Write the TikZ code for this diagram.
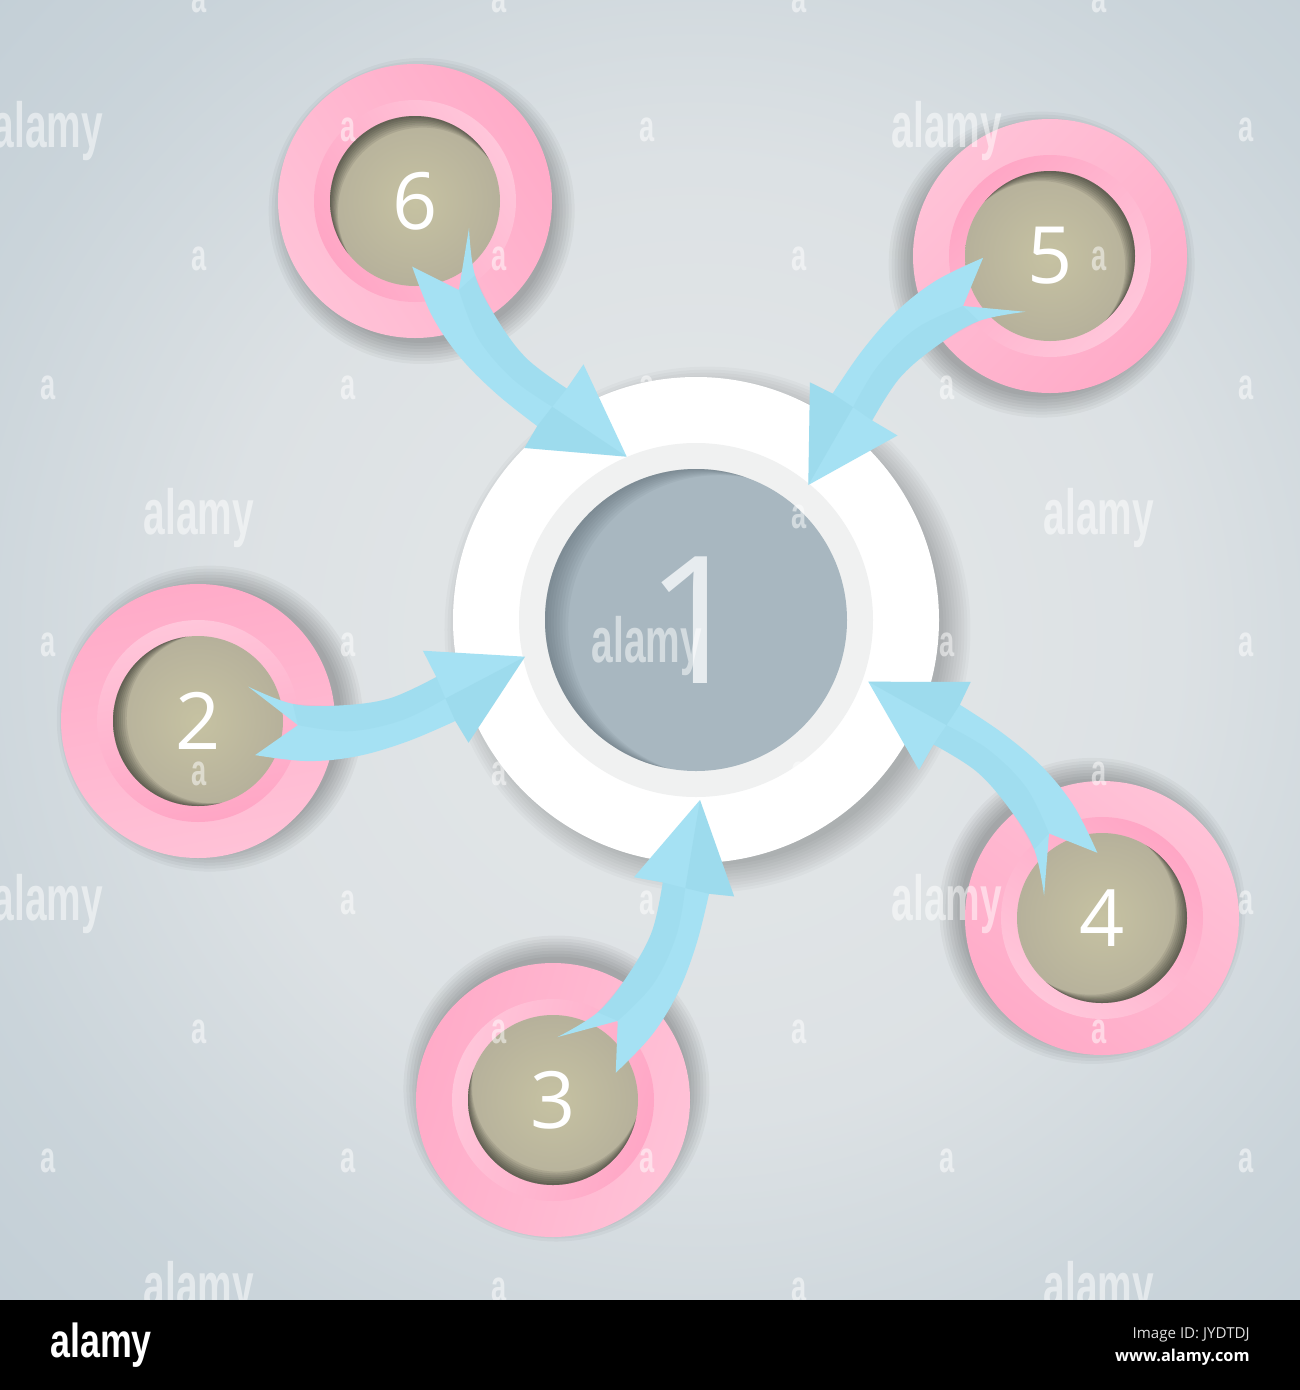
\documentclass[tikz,border=0pt]{standalone}
\usepackage{fontspec}
\setmainfont{Open Sans}
\newfontfamily\wmfont{Liberation Sans}
\usetikzlibrary{calc}
\definecolor{bgA}{HTML}{E5E8E9}
\definecolor{bgB}{HTML}{DCE1E4}
\definecolor{bgC}{HTML}{CAD4DA}
\definecolor{bgD}{HTML}{BDCAD3}
\definecolor{bgE}{HTML}{B4C4CE}
\definecolor{pinkOutL}{HTML}{FFC2D7}
\definecolor{pinkOutD}{HTML}{FFABC8}
\definecolor{pinkInL}{HTML}{FFC6DA}
\definecolor{pinkInD}{HTML}{FFA6C5}
\definecolor{brA}{HTML}{C6C2A2}
\definecolor{brB}{HTML}{B8B39C}
\definecolor{brC}{HTML}{A7A292}
\definecolor{arrowcol}{HTML}{A5E1F3}
\definecolor{arrowdk}{HTML}{7FC3D6}
\definecolor{ringgray}{HTML}{F0F1F1}
\definecolor{discgray}{HTML}{A8B7C0}
\definecolor{discdark}{HTML}{4F5D66}
\definecolor{onecol}{HTML}{E7ECEF}
\pgfdeclareradialshading{bgshade}{\pgfpointorigin}{color(0bp)=(bgA); color(8bp)=(bgB); color(13bp)=(bgC); color(19bp)=(bgD); color(28bp)=(bgE); color(50bp)=(bgE)}
\pgfdeclareradialshading{brownshade}{\pgfpointorigin}{color(0bp)=(brA); color(22bp)=(brB); color(44bp)=(brC); color(50bp)=(brC)}
\tikzset{
  arrowfill/.style={fill=arrowcol},
  digit/.style={text=white, inner sep=0pt, font=\fontsize{45}{45}\selectfont},
  wmsmall/.style={text=white, text opacity=0.5, inner sep=0pt, xscale=0.62, font=\wmfont\bfseries\fontsize{25}{25}\selectfont},
  wmbig/.style={text=white, text opacity=0.5, inner sep=0pt, anchor=base, xscale=0.61, font=\wmfont\bfseries\fontsize{36.3}{36.3}\selectfont}
}
% pink numbered disc: #1 centre name, #2 angle towards the central disc, #3 digit
\newcommand\pinkdisc[3]{%
  \foreach \k in {0,...,7}{\fill[black,opacity=0.035] ($(#1)+(#2:0.24cm)$) circle ({132+3*\k});}
  \shade[left color=pinkOutD, right color=pinkOutL, shading angle=#2] (#1) circle (137);
  \shade[left color=pinkInL, right color=pinkInD, shading angle=#2] (#1) circle (101);
  \shade[shading=brownshade] (#1) circle (85);
  \begin{scope}
    \clip (#1) circle (85);
    \foreach \k in {1,...,7}{\fill[black,opacity=0.08,even odd rule] (#1) circle (95) ($(#1)+(#2:{\k*0.04cm})$) circle (85);}
  \end{scope}
  \node[digit] (n#3) at (#1) {#3};
}
% curved ribbon arrow from tail coordinate #1 to tip coordinate #2
\newcommand\ribbon[2]{%
  \pgfpointdiff{\pgfpointanchor{#1}{center}}{\pgfpointanchor{#2}{center}}%
  \pgfgetlastxy{\rvx}{\rvy}%
  \pgfmathsetmacro\ra{\rvx/100}%
  \pgfmathsetmacro\rb{\rvy/100}%
  \pgfmathsetmacro\rc{-\rvy/100}%
  \begin{scope}[cm={\ra,\rb,\rc,\ra,(#1)}, x=1pt, y=1pt]
    \fill[arrowfill] (1.6,12.2) -- plot[smooth,tension=0.6] coordinates {(1.6,12.2) (15.6,2.6) (31.8,-1.8) (49.7,-3.4) (67.6,0.2)}
      -- (65.1,10.4) -- (100,0) -- (73.4,-25.2) -- (70.6,-16.6)
      -- plot[smooth,tension=0.6] coordinates {(70.6,-16.6) (52.2,-19.8) (33.6,-20.8) (15.9,-18.4) (-1.6,-12.1)}
      -- (15.7,-5.2) -- cycle;
    \fill[arrowdk,opacity=0.2] (100,0) -- (73.4,-25.2) -- (70.6,-16.6) -- (69,-8) -- cycle;
    \fill[arrowdk,opacity=0.12] (15.7,-5.2) -- plot[smooth,tension=0.6] coordinates {(15.7,-5.2) (33,-11.5) (52,-12) (69,-8)}
      -- (67.6,0.2) -- plot[smooth,tension=0.6] coordinates {(67.6,0.2) (49.7,-3.4) (31.8,-1.8) (15.6,2.6)} -- cycle;
  \end{scope}}
\begin{document}
\begin{tikzpicture}[x=0.02cm, y=-0.02cm]
\useasboundingbox (0,0) rectangle (1300,1390);
% background
\coordinate (bgc) at (696,640);
\begin{scope}
  \clip (0,0) rectangle (1300,1300);
  \shade[shading=bgshade] (bgc) circle (1500);
\end{scope}
% central disc
\coordinate (c1) at (696,620);
\foreach \k in {0,...,9}{\fill[black,opacity=0.025] ($(c1)+(-40:0.3cm)$) circle ({236+3*\k});}
\fill[white] (c1) circle (243);
\fill[ringgray] (c1) circle (177);
\fill[discgray] (c1) circle (151);
\begin{scope}
  \clip (c1) circle (151);
  \foreach \k in {1,...,8}{\fill[discdark,opacity=0.07,even odd rule] (c1) circle (165) ($(c1)+(-15:{\k*0.06cm})$) circle (151);}
\end{scope}
\node[inner sep=0pt, text=onecol, font=\fontsize{101}{101}\selectfont] (n1) at (c1) {1};
% satellite discs
\coordinate (c6) at (415,201);
\coordinate (c5) at (1050,256);
\coordinate (c2) at (198,721);
\coordinate (c3) at (553,1100);
\coordinate (c4) at (1102,918);
\pinkdisc{c6}{-56.2}{6}
\pinkdisc{c5}{-134.2}{5}
\pinkdisc{c2}{11.5}{2}
\pinkdisc{c3}{73.3}{3}
\pinkdisc{c4}{143.7}{4}
% arrows
\coordinate (t2) at (251.7,721);   \coordinate (h2) at (525,656.7);
\coordinate (t6) at (440.5,247.5); \coordinate (h6) at (626.7,456.7);
\coordinate (t5) at (1004.2,284.7);\coordinate (h5) at (808.3,485);
\coordinate (t4) at (1070.8,874.2);\coordinate (h4) at (868.3,681.7);
\coordinate (t3) at (586.7,1055);  \coordinate (h3) at (700,800);
\ribbon{t2}{h2}
\ribbon{t6}{h6}
\ribbon{t5}{h5}
\ribbon{t4}{h4}
\ribbon{t3}{h3}
% watermarks
\foreach \x/\y [count=\i] in {199/1,499/1,799/1,1099/1,
  348/130,647/130,1246/130,
  199/259,499/259,799/259,1099/259,
  48/388,348/388,647/388,947/388,1246/388,
  499/517,799/517,
  48/645,348/645,947/645,1246/645,
  199/774,499/774,799/774,1099/774,
  348/903,647/903,1246/903,
  199/1032,499/1032,799/1032,1099/1032,
  48/1161,348/1161,647/1161,947/1161,1246/1161,
  499/1290,799/1290}
  {\node[wmsmall] (wa\i) at (\x,\y) {a};}
\foreach \x/\y [count=\i] in {48/130,947/130,199/517,1099/517,647/645,48/903,947/903,199/1290,1099/1290}
  {\node[wmbig] (wb\i) at (\x,\y+17.5) {alamy};}
% bottom band
\fill[black] (0,1300) rectangle (1300,1390);
\node[anchor=base west, inner sep=0pt, text=white, xscale=0.75, font=\wmfont\bfseries\fontsize{27.2}{27.2}\selectfont] (logo) at (50,1357) {alamy};
\node[anchor=base east, inner sep=0pt, text=black!12, font=\fontsize{8.6}{8.6}\selectfont] (imgid) at (1250,1338) {Image ID: JYDTDJ};
\node[anchor=base east, inner sep=0pt, text=white, font=\bfseries\fontsize{9.3}{9.3}\selectfont] (www) at (1250,1361) {www.alamy.com};
\end{tikzpicture}
\end{document}
